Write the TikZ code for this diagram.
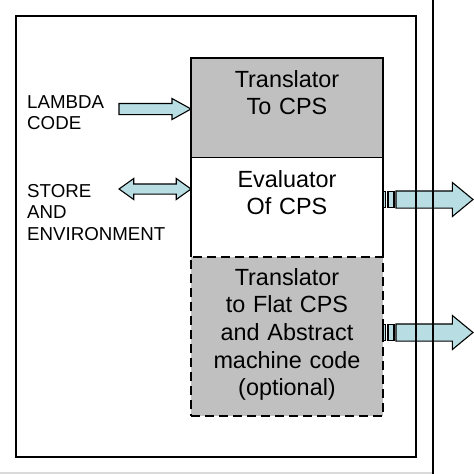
\documentclass[tikz,border=0pt]{standalone}
\usepackage{fontspec}
\setmainfont{Liberation Sans}
\usepackage{tikz}
\usetikzlibrary{positioning,shapes.arrows}
\definecolor{boxgray}{RGB}{192,192,192}
\definecolor{pipe}{RGB}{184,222,228}
\definecolor{strip}{RGB}{218,218,218}

\begin{document}
\begin{tikzpicture}[x=1pt, y=-1pt, line join=miter]
\tikzset{
  stage/.style={text width=188pt, align=center, inner xsep=2pt, inner ysep=0pt, outer sep=0pt, font=\fontsize{23.4}{27.7}\selectfont},
  lbl/.style={anchor=base west, text width=150pt, align=left, inner sep=0pt, font=\fontsize{18.7}{21.5}\selectfont},
  pipearrow/.style={draw, fill=pipe, line width=1.1pt, inner xsep=0pt, outer sep=0pt},
  outarrow/.style={pipearrow, single arrow, inner ysep=8pt, single arrow head extend=8.5pt, single arrow tip angle=79, minimum height=77pt, anchor=tail}
}
\useasboundingbox (0,0) rectangle (474,474);
\fill[strip] (0,472) rectangle (433,474);
% stages
\node[stage, draw, fill=boxgray, line width=1.2pt, anchor=north west, text height=29pt, text depth=71pt] (trans) at (191,58) {Translator\\To CPS};
\node[stage, fill=white, text height=29pt, text depth=70pt, below=0pt of trans] (eval) {Evaluator\\Of CPS};
\node[stage, draw, dash pattern=on 9pt off 5pt, fill=boxgray, line width=1.2pt, text height=28pt, text depth=131pt, below=0pt of eval] (flat) {Translator\\to Flat CPS\\and Abstract\\machine code\\(optional)};
\draw[line width=1.2pt] (eval.north west) -- (eval.south west) (eval.north east) -- (eval.south east);
% inputs
\node[lbl] (lambda) at (27,108) {LAMBDA\\CODE};
\node[lbl] (store) at (27,197) {STORE\\AND\\ENVIRONMENT};
\node[pipearrow, single arrow, inner ysep=5pt, single arrow head extend=5pt, single arrow tip angle=58, minimum height=72pt, anchor=tip] (lambdain) at ([yshift=-1pt]trans.west) {};
\node[pipearrow, double arrow, inner ysep=4.5pt, double arrow head extend=5.5pt, double arrow tip angle=71, minimum height=72pt] (storeio) at ([xshift=-36pt, yshift=-31pt]eval.north west) {};
% outputs
\node[outarrow] (evalout) at ([xshift=13pt, yshift=-41.5pt]eval.north east) {};
\node[outarrow] (flatout) at ([xshift=13pt, yshift=-75.5pt]flat.north east) {};
\foreach \a in {evalout, flatout} {
  \draw[pipearrow] ([xshift=-13pt, yshift=8pt]\a.tail) rectangle ++(2.5,16);
  \draw[pipearrow] ([xshift=-8pt, yshift=8pt]\a.tail) rectangle ++(6,16);
}
% frame
\draw[line width=1.6pt] (16,16) rectangle (416,457);
\draw[line width=1.2pt] (433,0) -- (433,474);
\end{tikzpicture}
\end{document}
